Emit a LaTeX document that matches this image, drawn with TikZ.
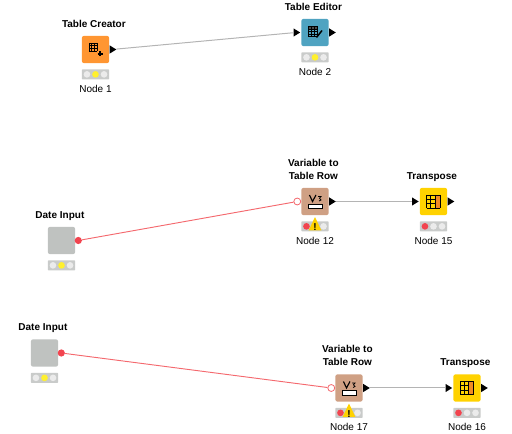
\documentclass[tikz,border=0pt]{standalone}
\usepackage{fontspec}
\setmainfont{Liberation Sans}
\usetikzlibrary{shapes.geometric, positioning}
\definecolor{sourceorange}{HTML}{FF9632}
\definecolor{editorteal}{HTML}{4FA3C1}
\definecolor{varbrown}{HTML}{CFA084}
\definecolor{manipyellow}{HTML}{FFD200}
\definecolor{quickgray}{HTML}{BFC2C0}
\definecolor{traygray}{HTML}{C9CBCA}
\definecolor{lampoff}{HTML}{EBEBEB}
\definecolor{lampyellow}{HTML}{FFF02E}
\definecolor{lampred}{HTML}{F2444F}
\definecolor{linegray}{HTML}{B4B4B4}
\definecolor{linered}{HTML}{F4696E}
\definecolor{turnorange}{HTML}{F08A24}
\tikzset{
  nodebox/.style    = {rectangle, rounded corners=1.5pt, minimum width=20.4pt, minimum height=20.4pt, inner sep=0pt},
  nodetitle/.style  = {align=center, inner sep=0pt, text depth=1.6pt, font=\fontsize{7.5}{9.8}\selectfont\bfseries},
  nodelabel/.style  = {inner sep=0pt, font=\fontsize{7.5}{9}\selectfont},
  tray/.style       = {rectangle, rounded corners=.5pt, fill=traygray, minimum width=20.4pt, minimum height=7.5pt, inner sep=0pt},
  lamp/.style       = {circle, minimum size=5pt, inner sep=0pt},
  dataport/.style   = {isosceles triangle, isosceles triangle stretches, fill=black, minimum width=6.2pt, minimum height=5pt, inner sep=0pt},
  varout/.style     = {circle, fill=lampred, minimum size=5.4pt, inner sep=0pt},
  varin/.style      = {circle, draw=linered, fill=white, line width=.6pt, minimum size=5.2pt, inner sep=0pt},
  warnsign/.style   = {isosceles triangle, isosceles triangle stretches, shape border rotate=90, fill=manipyellow, minimum width=9.5pt, minimum height=10pt, inner sep=0pt},
  warnmark/.style   = {inner sep=0pt, font=\fontsize{7.5}{7.5}\selectfont\bfseries},
  dataline/.style   = {linegray, line width=.75pt},
  varline/.style    = {linered, line width=.7pt},
  icongrid/.style   = {black, line width=.5pt}
}
% name, position, fill, title, left lamp, middle lamp
\newcommand{\flownode}[6]{
  \node[nodebox, fill=#3] (#1) at (#2) {};
  \node[nodetitle, above=4.6pt of #1, xshift=-1.2pt] (#1title) {#4};
  \node[tray, below=4.3pt of #1] (#1tray) {};
  \node[lamp, fill=#5] (#1lampl) at ([xshift=-6.4pt]#1tray.center) {};
  \node[lamp, fill=#6] (#1lampm) at (#1tray.center) {};
  \node[lamp, fill=lampoff] (#1lampr) at ([xshift=6.4pt]#1tray.center) {};
}
% icons are drawn around the centre of the box
\newcommand{\transposeicon}[1]{
  \begin{scope}[shift={(#1)}]
    \fill[turnorange] (1.5,-6.5) rectangle (6.5,6.5);
    \foreach \gx in {-7,-3,1.5,6.5} \draw[icongrid] (\gx,-6.5) -- (\gx,6.5);
    \foreach \gy in {-6.5,-2.2,2.2,6.5} \draw[icongrid] (-7,\gy) -- (1.5,\gy);
    \draw[icongrid] (1.5,-6.5) -- (6.5,-6.5) (1.5,6.5) -- (6.5,6.5);
  \end{scope}
}
\newcommand{\varicon}[1]{
  \begin{scope}[shift={(#1)}]
    \draw[line width=.85pt] (-5.5,-6.5) -- (-2.5,0) -- (1,-6.5);
    \draw[line width=.6pt] (3,-5) -- (6,-5) -- (4.5,-3.2) -- (6,-1.5) -- (4,-.5);
    \draw[fill=white, line width=.5pt] (-7,2.5) rectangle (7,7);
  \end{scope}
}

\begin{document}
\begin{tikzpicture}[x=.75pt, y=-.75pt]
  \useasboundingbox (0,0) rectangle (512,434);

  % top row
  \flownode{creator}{95.5,49.5}{sourceorange}{Table Creator}{lampoff}{lampyellow}
  \node[nodelabel, below=3.8pt of creatortray] (creatorlabel) {Node 1};
  \flownode{editor}{315,32.5}{editorteal}{Table Editor}{lampoff}{lampyellow}
  \node[nodelabel, below=3.8pt of editortray] (editorlabel) {Node 2};
  \node[dataport, right=0pt of creator] (creatorout) {};
  \node[dataport, left=.2pt of editor] (editorin) {};
  \node[dataport, right=0pt of editor] (editorout) {};

  % middle row
  \flownode{dateone}{61.5,240.5}{quickgray}{Date Input}{lampoff}{lampyellow}
  \flownode{varone}{315,201.5}{varbrown}{Variable to\\Table Row}{lampred}{lampoff}
  \node[nodelabel, below=3.8pt of varonetray] (varonelabel) {Node 12};
  \flownode{transone}{433.5,201.5}{manipyellow}{Transpose}{lampred}{lampoff}
  \node[nodelabel, below=3.8pt of transonetray] (transonelabel) {Node 15};
  \node[varout] (dateoneout) at ([xshift=2.2pt]dateone.east) {};
  \node[varin] (varonein) at ([xshift=-2.9pt]varone.west) {};
  \node[dataport, right=0pt of varone] (varoneout) {};
  \node[dataport, left=.2pt of transone] (transonein) {};
  \node[dataport, right=0pt of transone] (transoneout) {};
  \node[warnsign] (varonewarn) at (varonetray) {};
  \node[warnmark] (varonemark) at ([yshift=-.8pt]varonetray) {!};

  % bottom row
  \flownode{datetwo}{44.5,353}{quickgray}{Date Input}{lampoff}{lampyellow}
  \flownode{vartwo}{349,388}{varbrown}{Variable to\\Table Row}{lampred}{lampoff}
  \node[nodelabel, below=3.8pt of vartwotray] (vartwolabel) {Node 17};
  \flownode{transtwo}{467,388}{manipyellow}{Transpose}{lampred}{lampoff}
  \node[nodelabel, below=3.8pt of transtwotray] (transtwolabel) {Node 16};
  \node[varout] (datetwoout) at ([xshift=2.2pt]datetwo.east) {};
  \node[varin] (vartwoin) at ([xshift=-2.9pt]vartwo.west) {};
  \node[dataport, right=0pt of vartwo] (vartwoout) {};
  \node[dataport, left=.2pt of transtwo] (transtwoin) {};
  \node[dataport, right=0pt of transtwo] (transtwoout) {};
  \node[warnsign] (vartwowarn) at (vartwotray) {};
  \node[warnmark] (vartwomark) at ([yshift=-.8pt]vartwotray) {!};

  \draw[dataline] (creatorout) -- (editorin);
  \draw[varline] (dateoneout) -- (varonein);
  \draw[dataline] (varoneout) -- (transonein);
  \draw[varline] (datetwoout) -- (vartwoin);
  \draw[dataline] (vartwoout) -- (transtwoin);

  % icons
  \begin{scope}[shift={(creator)}]
    \foreach \gx in {-6.5,-3.8,-1.2,1.5} \draw[icongrid] (\gx,-6.5) -- (\gx,1.5);
    \foreach \gy in {-6.5,-3.8,-1.2,1.5} \draw[icongrid] (-6.5,\gy) -- (1.5,\gy);
    \draw[line width=.8pt] (2,4.5) -- (7,4.5) (4.5,2) -- (4.5,7);
  \end{scope}
  \begin{scope}[shift={(editor)}]
    \fill[black!70] (-7,-6) rectangle (2,-3.5);
    \foreach \gx in {-7,-4,-1,2} \draw[icongrid] (\gx,-6) -- (\gx,4);
    \foreach \gy in {-6,-3.5,-1,1.5,4} \draw[icongrid] (-7,\gy) -- (2,\gy);
    \draw[line width=1.1pt] (7,-2) -- (1.5,5);
  \end{scope}
  \varicon{varone}
  \varicon{vartwo}
  \transposeicon{transone}
  \transposeicon{transtwo}
\end{tikzpicture}
\end{document}
